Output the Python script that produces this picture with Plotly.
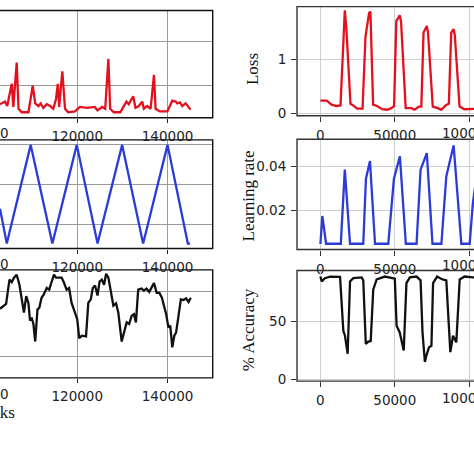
import plotly.graph_objects as go

W = H = 474

# ---------------- data ----------------
# Left column (late training, x ~ 103k..145k)
left_loss_x = [102900, 104000, 104500, 105500, 105850, 106600, 107000, 107700, 109200, 110150,
               110700, 111400, 111900, 112500, 113250, 114000, 114700, 115300, 115700, 116000,
               116700, 117300, 118000, 119500, 120600, 122200, 123900, 124500, 125500, 126200,
               126900, 127300, 128100, 129550, 130900, 131400, 132400, 132900, 133650, 134400,
               134750, 135500, 136250, 137000, 137350, 138300, 139950, 141050, 141800, 142150,
               142750, 143250, 144000, 145100]
left_loss_y = [0.29, 0.32, 0.27, 0.52, 0.26, 0.76, 0.24, 0.20, 0.20, 0.50,
               0.30, 0.27, 0.30, 0.25, 0.29, 0.27, 0.24, 0.35, 0.52, 0.26,
               0.66, 0.24, 0.20, 0.21, 0.26, 0.25, 0.26, 0.22, 0.26, 0.24,
               0.80, 0.24, 0.20, 0.20, 0.32, 0.29, 0.38, 0.25, 0.27, 0.32,
               0.24, 0.27, 0.24, 0.62, 0.24, 0.21, 0.21, 0.33, 0.32, 0.30,
               0.31, 0.27, 0.30, 0.23]

left_lr_x = [102900, 104400, 109700, 114500, 119900, 124500, 129950, 134600, 140000, 144500, 145000]
left_lr_y = [0.018, 0.0005, 0.05, 0.0005, 0.05, 0.0005, 0.05, 0.0005, 0.05, 0.0005, 0.0005]

left_acc_x = [102900, 103650, 104250, 105000, 105500, 106000, 106600, 107200, 107700, 108200,
              108700, 109200, 109550, 109900, 110300, 110700, 111200, 111600, 112100, 112600,
              113250, 113800, 114350, 114850, 115300, 115800, 116550, 117050, 117650, 118200,
              118750, 119500, 120000, 120450, 121000, 121950, 122450, 123000, 123450, 123950,
              124500, 124950, 125450, 125950, 126400, 126900, 127400, 128000, 128600, 129100,
              129850, 130350, 130950, 131500, 132050, 132550, 133000, 133500, 134250, 134750,
              135350, 135950, 136500, 137000, 137600, 138200, 138750, 139250, 139700, 140200,
              140600, 141050, 141500, 141900, 142450, 142950, 143550, 144100, 144650, 145150]
left_acc_y = [74.6, 75.6, 76.1, 83.6, 82.8, 84.2, 85.1, 82.0, 77.5, 73.4,
              78.5, 76.3, 70.9, 71.9, 69.9, 64.5, 74.4, 74.9, 78.0, 79.0,
              81.0, 80.5, 83.0, 85.1, 84.2, 84.2, 84.2, 82.7, 80.5, 81.0,
              76.4, 73.4, 71.4, 65.5, 66.3, 66.1, 76.4, 77.5, 81.0, 81.8,
              78.7, 83.0, 83.6, 82.0, 85.4, 84.2, 80.0, 75.6, 76.3, 73.4,
              64.5, 67.3, 70.4, 69.9, 72.4, 72.9, 70.4, 80.5, 80.8, 80.2,
              80.8, 79.8, 81.0, 82.5, 79.5, 79.5, 78.0, 75.1, 72.9, 68.8,
              69.4, 62.7, 66.3, 67.3, 72.4, 77.5, 77.3, 77.8, 76.7, 78.0]

# Right column (x from 0)
right_loss_x = [0, 4200, 7500, 10800, 13500, 16400, 17500, 20200, 22000, 24700, 28300, 30300,
                32700, 33600, 35400, 38000, 41600, 44700, 47700, 49500, 51000, 53300, 54200,
                57300, 61100, 63300, 66200, 67800, 69300, 71500, 72300, 75500, 78900, 81200,
                84500, 86300, 87900, 89500, 90300, 93500, 96800, 102400, 105000]
right_loss_y = [0.24, 0.24, 0.165, 0.14, 0.15, 1.91, 1.55, 0.18, 0.15, 0.09, 0.09, 1.43,
                1.86, 1.89, 0.165, 0.14, 0.08, 0.07, 0.10, 0.14, 1.71, 1.82, 1.70,
                0.10, 0.10, 0.07, 0.13, 0.13, 1.50, 1.62, 1.50, 0.13, 0.10, 0.07,
                0.16, 0.18, 1.50, 1.56, 1.45, 0.13, 0.08, 0.09, 0.09]

right_lr_x = [0, 1300, 3800, 13700, 16400, 19900, 28800, 30600, 33300, 36700, 45600, 49400,
              53400, 57400, 64600, 67300, 71500, 75300, 81300, 84600, 89500, 94700, 100300,
              102400, 105000]
right_lr_y = [0.0049, 0.0176, 0.005, 0.005, 0.0386, 0.005, 0.005, 0.0345, 0.0425, 0.005,
              0.005, 0.0345, 0.0446, 0.005, 0.005, 0.0386, 0.0461, 0.005, 0.005, 0.0356,
              0.0496, 0.005, 0.005, 0.0232, 0.036]

right_acc_x = [0, 900, 3000, 6500, 13200, 15400, 16500, 18300, 19900, 22100, 27700, 28800,
               30500, 32200, 33800, 35500, 37800, 43300, 50000, 51200, 53300, 56000, 57800,
               60100, 64600, 67300, 68600, 70200, 71300, 73000, 74600, 75700, 78400, 82000,
               84600, 87300, 89100, 90200, 91300, 93600, 96900, 102500, 105000]
right_acc_y = [88.8, 84.6, 87.4, 88.8, 88.5, 42.0, 37.7, 22.1, 84.6, 87.4, 88.1, 85.5,
               30.6, 32.6, 33.1, 77.5, 86.3, 88.8, 87.0, 46.3, 40.5, 25.0, 83.1,
               88.1, 88.8, 85.5, 40.5, 15.0, 21.0, 27.8, 29.0, 83.1, 88.8, 86.3,
               85.5, 23.5, 37.7, 35.1, 32.0, 86.3, 88.8, 88.1, 88.0]

left_xticks = [100000, 120000, 140000]
left_xticktext = ["100000", "120000", "140000"]
right_xticks = [0, 50000, 100000]
right_xticktext = ["0", "50000", "100000"]
left_loss_grid = [0.5, 1.0]
left_lr_grid = [0.01, 0.03, 0.05]
left_acc_grid = [60, 80]
right_loss_ticks = [0, 1]
right_lr_ticks = [0.02, 0.04]
right_lr_ticktext = ["0.02", "0.04"]
right_acc_ticks = [0, 50]

RED = "#e4101e"
BLUE = "#2b3bd8"
BLACK = "#111111"

# ---------------- layout helpers ----------------
def xdom(p0, p1):
    return [p0 / W, min(p1 / W, 1.0)]

def ydom(top, bottom):
    return [1 - bottom / H, 1 - top / H]

LEFT_X = xdom(0, 212.7)
RIGHT_X = xdom(297, 474)

tickfont = dict(family="DejaVu Sans", size=13.5, color="#222")

fig = go.Figure()
traces = [
    (left_loss_x, left_loss_y, RED, "x", "y"),
    (right_loss_x, right_loss_y, RED, "x2", "y2"),
    (left_lr_x, left_lr_y, BLUE, "x3", "y3"),
    (right_lr_x, right_lr_y, BLUE, "x4", "y4"),
    (left_acc_x, left_acc_y, BLACK, "x5", "y5"),
    (right_acc_x, right_acc_y, BLACK, "x6", "y6"),
]
for xs, ys, c, xa, ya in traces:
    fig.add_trace(go.Scatter(x=xs, y=ys, mode="lines", line=dict(color=c, width=2.3),
                             xaxis=xa, yaxis=ya, showlegend=False, hoverinfo="skip"))

LEFT_GRID = "#9a9a9a"
RIGHT_GRID = "#cfcfcf"

def left_x(anchor):
    return dict(domain=LEFT_X, anchor=anchor, range=[102900, 150000], tickvals=left_xticks,
                ticktext=left_xticktext,
                showgrid=True, gridcolor=LEFT_GRID, gridwidth=1, zeroline=False,
                ticks="outside", ticklen=4, tickcolor="#222", tickfont=tickfont,
                ticklabelstandoff=2, showline=False)

def right_x(anchor):
    return dict(domain=RIGHT_X, anchor=anchor, range=[-15730, 103200], tickvals=right_xticks,
                ticktext=right_xticktext,
                showgrid=True, gridcolor=RIGHT_GRID, gridwidth=1, zeroline=False,
                ticks="outside", ticklen=5, tickcolor="#333", tickfont=tickfont,
                ticklabelstandoff=2, showline=False)

def left_y(anchor, dom, rng, grid):
    return dict(domain=dom, anchor=anchor, range=rng, tickvals=grid, showticklabels=False,
                showgrid=True, gridcolor=LEFT_GRID, gridwidth=1, zeroline=False, ticks="")

def right_y(anchor, dom, rng, ticks, text=None):
    d = dict(domain=dom, anchor=anchor, range=rng, tickvals=ticks,
             showgrid=True, gridcolor=RIGHT_GRID, gridwidth=1, zeroline=False,
             ticks="outside", ticklen=5, tickcolor="#333", tickfont=tickfont,
             ticklabelstandoff=2)
    if text is not None:
        d["ticktext"] = text
    return d

D1L, D1R = ydom(10.7, 119.3), ydom(6.7, 117.3)
D2L, D2R = ydom(141.7, 251.7), ydom(141.0, 252.7)
D3L, D3R = ydom(273.3, 382.7), ydom(274.0, 386.0)

fig.update_layout(
    width=W, height=H, margin=dict(l=0, r=0, t=0, b=0),
    paper_bgcolor="white", plot_bgcolor="white",
    xaxis=left_x("y"),
    yaxis=left_y("x", D1L, [0.138, 1.344], left_loss_grid),
    xaxis2=right_x("y2"),
    yaxis2=right_y("x2", D1R, [-0.042, 1.98], right_loss_ticks),
    xaxis3=left_x("y3"),
    yaxis3=left_y("x3", D2L, [-0.002, 0.0525], left_lr_grid),
    xaxis4=right_x("y4"),
    yaxis4=right_y("x4", D2R, [0.0024, 0.0524], right_lr_ticks, right_lr_ticktext),
    xaxis5=left_x("y5"),
    yaxis5=left_y("x5", D3L, [53.3, 86.6], left_acc_grid),
    xaxis6=right_x("y6"),
    yaxis6=right_y("x6", D3R, [-1.5, 94.0], right_acc_ticks),
)

# frames (left panels: open on the cut left side; right panels: open on the cut right side)
for xa, ya, x0, x1, col in [("x", "y", -0.2, 1, "#111"), ("x3", "y3", -0.2, 1, "#111"),
                            ("x5", "y5", -0.2, 1, "#111"), ("x2", "y2", 0, 1.3, "#333"),
                            ("x4", "y4", 0, 1.3, "#333"), ("x6", "y6", 0, 1.3, "#333")]:
    fig.add_shape(type="rect", xref=f"{xa} domain", yref=f"{ya} domain",
                  x0=x0, x1=x1, y0=0, y1=1, line=dict(color=col, width=1.4),
                  fillcolor="rgba(0,0,0,0)", layer="above")

serif = dict(family="Liberation Serif", size=17, color="#111")
ann = []
for text, cx, cy in [("Loss", 252, 70), ("Learning rate", 248, 199), ("% Accuracy", 248.5, 334)]:
    ann.append(dict(text=text, x=cx / W, y=1 - cy / H, xref="paper", yref="paper",
                    textangle=-90, showarrow=False, font=serif, xanchor="center", yanchor="middle"))
# partially visible left-column x label
ann.append(dict(text="Number of blocks", x=17 / W, y=1 - 418 / H, xref="paper", yref="paper",
                showarrow=False, font=serif, xanchor="right", yanchor="middle"))
# left-column "100000" tick labels, cut by the image's left edge
for cy in [135, 267, 399]:
    ann.append(dict(text="100000", x=10.5 / W, y=1 - cy / H, xref="paper", yref="paper",
                    showarrow=False, font=tickfont, xanchor="right", yanchor="middle"))
# right-column "100000" tick labels, cut by the image's right edge
for cy in [135, 268, 403]:
    ann.append(dict(text="100000", x=468.3 / W, y=1 - cy / H, xref="paper", yref="paper",
                    showarrow=False, font=tickfont, xanchor="center", yanchor="middle"))
fig.update_layout(annotations=ann)

fig.write_html("out.html")
